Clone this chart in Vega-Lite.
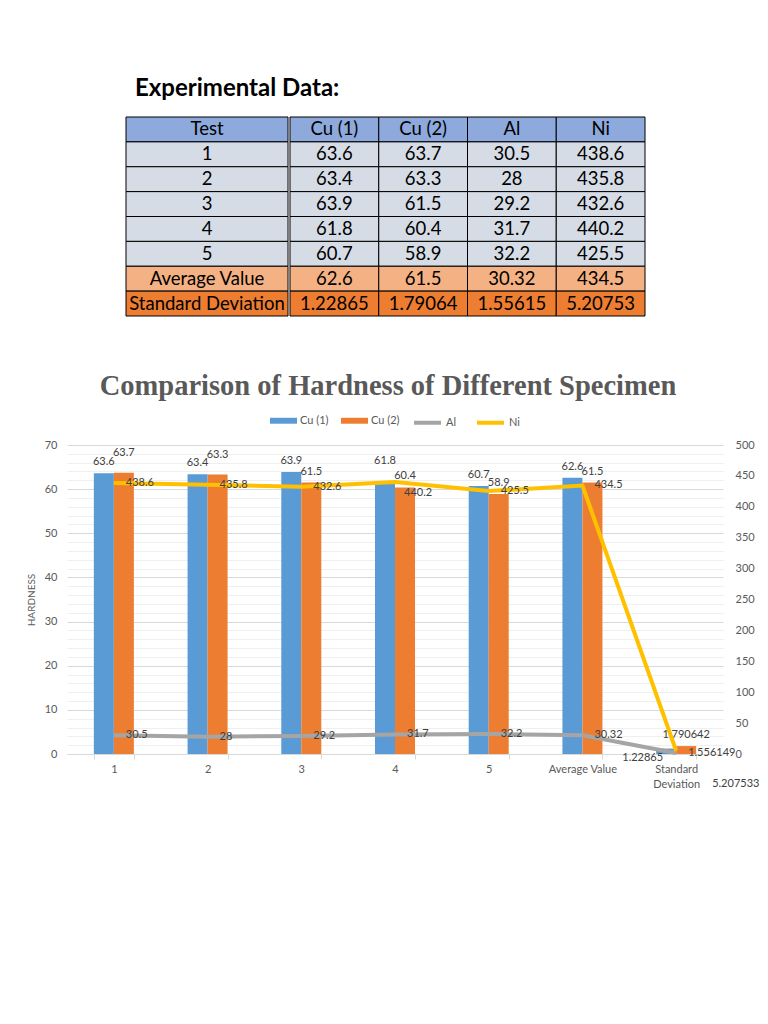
{
  "$schema": "https://vega.github.io/schema/vega-lite/v6.json",
  "padding": {"left": 26, "top": 76, "right": 5, "bottom": 5},
  "background": "white",
  "config": {
    "view": {"stroke": null},
    "font": "Lato",
    "legend": {"layout": {"top": {"anchor": "middle", "direction": "horizontal", "margin": 12}}}
  },
  "datasets": {
    "table": [
      {"Test": "Test", "cu1": "Cu (1)", "cu2": "Cu (2)", "al": "Al", "ni": "Ni", "kind": "header"},
      {"Test": "1", "cu1": "63.6", "cu2": "63.7", "al": "30.5", "ni": "438.6", "kind": "data"},
      {"Test": "2", "cu1": "63.4", "cu2": "63.3", "al": "28", "ni": "435.8", "kind": "data"},
      {"Test": "3", "cu1": "63.9", "cu2": "61.5", "al": "29.2", "ni": "432.6", "kind": "data"},
      {"Test": "4", "cu1": "61.8", "cu2": "60.4", "al": "31.7", "ni": "440.2", "kind": "data"},
      {"Test": "5", "cu1": "60.7", "cu2": "58.9", "al": "32.2", "ni": "425.5", "kind": "data"},
      {"Test": "Average Value", "cu1": "62.6", "cu2": "61.5", "al": "30.32", "ni": "434.5", "kind": "avg"},
      {"Test": "Standard Deviation", "cu1": "1.22865", "cu2": "1.79064", "al": "1.55615", "ni": "5.20753", "kind": "sd"}
    ],
    "chart": [
      {"cat": "1", "series": "Cu (1)", "value": 63.6},
      {"cat": "1", "series": "Cu (2)", "value": 63.7},
      {"cat": "1", "series": "Al", "value": 30.5},
      {"cat": "1", "series": "Ni", "value": 438.6},
      {"cat": "2", "series": "Cu (1)", "value": 63.4},
      {"cat": "2", "series": "Cu (2)", "value": 63.3},
      {"cat": "2", "series": "Al", "value": 28},
      {"cat": "2", "series": "Ni", "value": 435.8},
      {"cat": "3", "series": "Cu (1)", "value": 63.9},
      {"cat": "3", "series": "Cu (2)", "value": 61.5},
      {"cat": "3", "series": "Al", "value": 29.2},
      {"cat": "3", "series": "Ni", "value": 432.6},
      {"cat": "4", "series": "Cu (1)", "value": 61.8},
      {"cat": "4", "series": "Cu (2)", "value": 60.4},
      {"cat": "4", "series": "Al", "value": 31.7},
      {"cat": "4", "series": "Ni", "value": 440.2},
      {"cat": "5", "series": "Cu (1)", "value": 60.7},
      {"cat": "5", "series": "Cu (2)", "value": 58.9},
      {"cat": "5", "series": "Al", "value": 32.2},
      {"cat": "5", "series": "Ni", "value": 425.5},
      {"cat": "Average Value", "series": "Cu (1)", "value": 62.6},
      {"cat": "Average Value", "series": "Cu (2)", "value": 61.5},
      {"cat": "Average Value", "series": "Al", "value": 30.32},
      {"cat": "Average Value", "series": "Ni", "value": 434.5},
      {"cat": "Standard Deviation", "series": "Cu (1)", "value": 1.22865},
      {"cat": "Standard Deviation", "series": "Cu (2)", "value": 1.790642},
      {"cat": "Standard Deviation", "series": "Al", "value": 1.556149},
      {"cat": "Standard Deviation", "series": "Ni", "value": 5.207533}
    ]
  },
  "resolve": {"scale": {"color": "independent", "fill": "independent", "stroke": "independent"}},
  "spacing": 54,
  "vconcat": [
    {
      "title": {"text": "Experimental Data:", "anchor": "start", "dx": 68, "fontSize": 24, "fontWeight": "bold", "color": "black", "font": "Lato", "offset": 16},
      "spacing": 0,
      "hconcat": [
        {"width": 58, "height": 1, "data": {"values": []}, "mark": "rect"},
        {
          "width": 162, "height": 199,
          "data": {"name": "table"},
          "encoding": {
            "y": {"field": "Test", "type": "nominal", "sort": null, "axis": null, "scale": {"paddingInner": 0, "paddingOuter": 0}},
            "x": {"datum": "Test", "type": "nominal", "axis": null, "scale": {"paddingInner": 0, "paddingOuter": 0}}
          },
          "layer": [
            {"mark": {"type": "rect", "stroke": "black", "strokeWidth": 1},
             "encoding": {"color": {"field": "kind", "type": "nominal", "legend": null, "scale": {"domain": ["header", "data", "avg", "sd"], "range": ["#8EA9DB", "#D6DCE5", "#F4B183", "#ED7D31"]}}}},
            {"mark": {"type": "text", "fontSize": 18.5, "color": "black", "font": "Lato"},
             "encoding": {"text": {"field": "Test", "type": "nominal"}}}
          ]
        },
        {
          "width": 355, "height": 199,
          "data": {"name": "table"},
          "transform": [{"fold": ["cu1", "cu2", "al", "ni"], "as": ["col", "val"]}],
          "encoding": {
            "y": {"field": "Test", "type": "nominal", "sort": null, "axis": null, "scale": {"paddingInner": 0, "paddingOuter": 0}},
            "x": {"field": "col", "type": "nominal", "sort": ["cu1", "cu2", "al", "ni"], "axis": null, "scale": {"paddingInner": 0, "paddingOuter": 0}}
          },
          "layer": [
            {"mark": {"type": "rect", "stroke": "black", "strokeWidth": 1},
             "encoding": {"color": {"field": "kind", "type": "nominal", "legend": null, "scale": {"domain": ["header", "data", "avg", "sd"], "range": ["#8EA9DB", "#D6DCE5", "#F4B183", "#ED7D31"]}}}},
            {"mark": {"type": "text", "fontSize": 18.5, "color": "black", "font": "Lato"},
             "encoding": {"text": {"field": "val", "type": "nominal"}}}
          ]
        }
      ]
    },
    {
      "width": 656, "height": 309,
      "title": {"text": "Comparison of Hardness of Different Specimen", "font": "Liberation Serif", "fontSize": 28.5, "fontWeight": "bold", "color": "#595959", "anchor": "middle", "offset": 7, "dx": -7},
      "data": {"name": "chart"},
      "encoding": {
        "x": {"field": "cat", "type": "nominal", "title": null,
              "scale": {"domain": ["1", "2", "3", "4", "5", "Average Value", "Standard Deviation"], "paddingInner": 0.573, "paddingOuter": 0.2865},
              "axis": {"labelAngle": 0, "labelColor": "#595959", "labelFontSize": 11, "labelFont": "Lato", "domainColor": "#d9d9d9", "tickColor": "#d9d9d9", "tickSize": 5, "tickBand": "extent", "labelPadding": 4, "labelOverlap": false, "labelLineHeight": 15,
                       "labelExpr": "datum.label == 'Standard Deviation' ? ['Standard', 'Deviation'] : datum.label"}}
      },
      "layer": [
        {
          "transform": [{"filter": "datum.series == 'Cu (1)' || datum.series == 'Cu (2)'"}],
          "encoding": {
            "y": {"field": "value", "type": "quantitative",
                  "scale": {"domain": [0, 70], "nice": false},
                  "axis": {"title": "HARDNESS", "titleFontSize": 10, "titleFontWeight": "normal", "titleColor": "#595959", "titleFont": "Lato", "titlePadding": 8,
                           "values": [0,2,4,6,8,10,12,14,16,18,20,22,24,26,28,30,32,34,36,38,40,42,44,46,48,50,52,54,56,58,60,62,64,66,68,70],
                           "labelExpr": "datum.value % 10 == 0 ? datum.label : ''",
                           "labelColor": "#595959", "labelFontSize": 11, "labelFont": "Lato", "labelPadding": 10,
                           "ticks": false, "domain": false,
                           "gridColor": {"condition": {"test": "datum.value % 10 == 0", "value": "#d9d9d9"}, "value": "#efefef"}}},
            "xOffset": {"field": "series", "type": "nominal", "sort": ["Cu (1)", "Cu (2)"], "scale": {"paddingInner": 0, "paddingOuter": 0}}
          },
          "layer": [
            {"mark": {"type": "bar"},
             "encoding": {
               "fill": {"field": "series", "type": "nominal", "scale": {"domain": ["Cu (1)", "Cu (2)"], "range": ["#5B9BD5", "#ED7D31"]},
                        "legend": {"orient": "top", "direction": "horizontal", "title": null, "symbolType": "M-1,-0.22H1V0.22H-1Z", "symbolSize": 729, "symbolStrokeWidth": 0, "labelColor": "#595959", "labelFontSize": 11, "labelFont": "Lato", "labelOffset": 3, "columnPadding": 12, "offset": 14}}
             }},
            {"transform": [{"filter": "!((datum.cat == '1' && datum.series == 'Cu (2)') || (datum.cat == '2' && datum.series == 'Cu (2)') || (datum.cat == '4' && datum.series == 'Cu (1)') || (datum.cat == 'Standard Deviation' && datum.series == 'Cu (1)'))"}],
             "mark": {"type": "text", "dy": -11, "fontSize": 11, "color": "#404040", "font": "Lato"},
             "encoding": {"text": {"field": "value", "type": "nominal"}}},
            {"transform": [{"filter": "(datum.cat == '1' && datum.series == 'Cu (2)') || (datum.cat == '2' && datum.series == 'Cu (2)') || (datum.cat == '4' && datum.series == 'Cu (1)')"}],
             "mark": {"type": "text", "dy": -20, "fontSize": 11, "color": "#404040", "font": "Lato"},
             "encoding": {"text": {"field": "value", "type": "nominal"}}},
            {"transform": [{"filter": "datum.cat == 'Standard Deviation' && datum.series == 'Cu (1)'"}],
             "mark": {"type": "text", "dy": 9, "dx": -3, "align": "right", "fontSize": 11, "color": "#404040", "font": "Lato"},
             "encoding": {"text": {"field": "value", "type": "nominal"}}}
          ]
        },
        {
          "transform": [{"filter": "datum.series == 'Al' || datum.series == 'Ni'"}],
          "encoding": {
            "y": {"field": "value", "type": "quantitative",
                  "scale": {"domain": [0, 500], "nice": false},
                  "axis": {"orient": "right", "title": null, "values": [0,50,100,150,200,250,300,350,400,450,500], "grid": false, "ticks": false, "domain": false,
                           "labelColor": "#595959", "labelFontSize": 11, "labelFont": "Lato", "labelPadding": 12}}
          },
          "layer": [
            {"mark": {"type": "line", "strokeWidth": 4},
             "encoding": {
               "stroke": {"field": "series", "type": "nominal", "scale": {"domain": ["Al", "Ni"], "range": ["#A5A5A5", "#FFC000"]},
                          "legend": {"orient": "top", "direction": "horizontal", "title": null, "symbolType": "stroke", "symbolSize": 729, "symbolStrokeWidth": 4, "labelColor": "#595959", "labelFontSize": 11, "labelFont": "Lato", "labelOffset": 3, "columnPadding": 12, "offset": 14}}
             }},
            {"transform": [{"filter": "!((datum.cat == '4' && datum.series == 'Ni') || (datum.cat == 'Standard Deviation' && datum.series == 'Ni'))"}],
             "mark": {"type": "text", "align": "left", "baseline": "middle", "dx": 12, "fontSize": 11, "color": "#404040", "font": "Lato"},
             "encoding": {"text": {"field": "value", "type": "nominal"}}},
            {"transform": [{"filter": "datum.cat == '4' && datum.series == 'Ni'"}],
             "mark": {"type": "text", "align": "left", "baseline": "middle", "dx": 9, "dy": 11, "fontSize": 11, "color": "#404040", "font": "Lato"},
             "encoding": {"text": {"field": "value", "type": "nominal"}}},
            {"transform": [{"filter": "datum.cat == 'Standard Deviation' && datum.series == 'Ni'"}],
             "mark": {"type": "text", "align": "left", "baseline": "middle", "dx": 36, "dy": 33, "fontSize": 11, "color": "#404040", "font": "Lato"},
             "encoding": {"text": {"field": "value", "type": "nominal"}}}
          ]
        }
      ],
      "resolve": {"scale": {"y": "independent"}}
    }
  ]
}
